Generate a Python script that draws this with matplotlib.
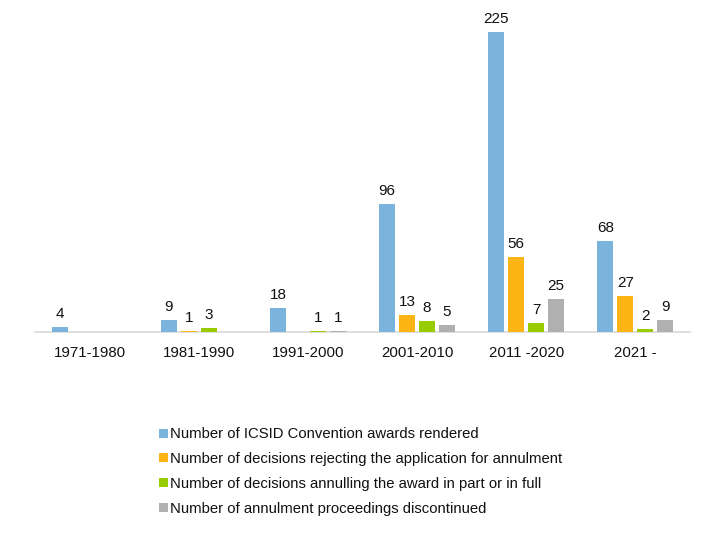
import matplotlib
matplotlib.use("Agg")
import matplotlib.pyplot as plt
from matplotlib.patches import Patch
import numpy as np

plt.rcParams['font.family'] = ['Liberation Sans', 'DejaVu Sans']

categories = ["1971-1980", "1981-1990", "1991-2000", "2001-2010", "2011 -2020", "2021 -"]
awards = [4, 9, 18, 96, 225, 68]
rejecting = [None, 1, None, 13, 56, 27]
annulling = [None, 3, 1, 8, 7, 2]
discontinued = [None, None, 1, 5, 25, 9]

series_labels = [
    "Number of ICSID Convention awards rendered",
    "Number of decisions rejecting the application for annulment",
    "Number of decisions annulling the award in part or in full",
    "Number of annulment proceedings discontinued",
]
series = [awards, rejecting, annulling, discontinued]
colors = ["#7AB4DD", "#FDB515", "#99CC00", "#B0B0B0"]

fig = plt.figure(figsize=(7.03, 5.40), dpi=100)
ax = fig.add_axes([35/703, (540-332)/540, 655/703, 320/540])

x = np.arange(len(categories))
step = 0.183
bw = 0.147
for i, (vals, col) in enumerate(zip(series, colors)):
    off = (i - 1.5) * step
    for xi, v in zip(x, vals):
        if v is None:
            continue
        ax.bar(xi + off, v, width=bw, color=col, linewidth=0, zorder=3)
        ax.text(xi + off, v + 4.5, str(v), ha='center', va='bottom', fontsize=11, color='#111111')

ax.set_xlim(-0.5, len(categories) - 0.5)
ax.set_ylim(0, 240)
ax.set_xticks(x)
ax.set_xticklabels(categories, fontsize=10.8, color='#111111')
ax.tick_params(axis='x', length=0, pad=10)
ax.set_yticks([])
for s in ['top', 'right', 'left']:
    ax.spines[s].set_visible(False)
ax.spines['bottom'].set_color('#D9D9D9')
ax.spines['bottom'].set_linewidth(1.2)
ax.spines['bottom'].set_zorder(1)

handles = [Patch(facecolor=c, edgecolor='none') for c in colors]
fig.legend(handles, series_labels, loc='upper left', bbox_to_anchor=(152/703, 1 - 420/540),
           frameon=False, fontsize=10.7, handlelength=0.56, handleheight=0.56,
           handletextpad=0.12, labelspacing=0.72, borderpad=0, labelcolor='#111111')

fig.savefig("out.png", dpi=100)
